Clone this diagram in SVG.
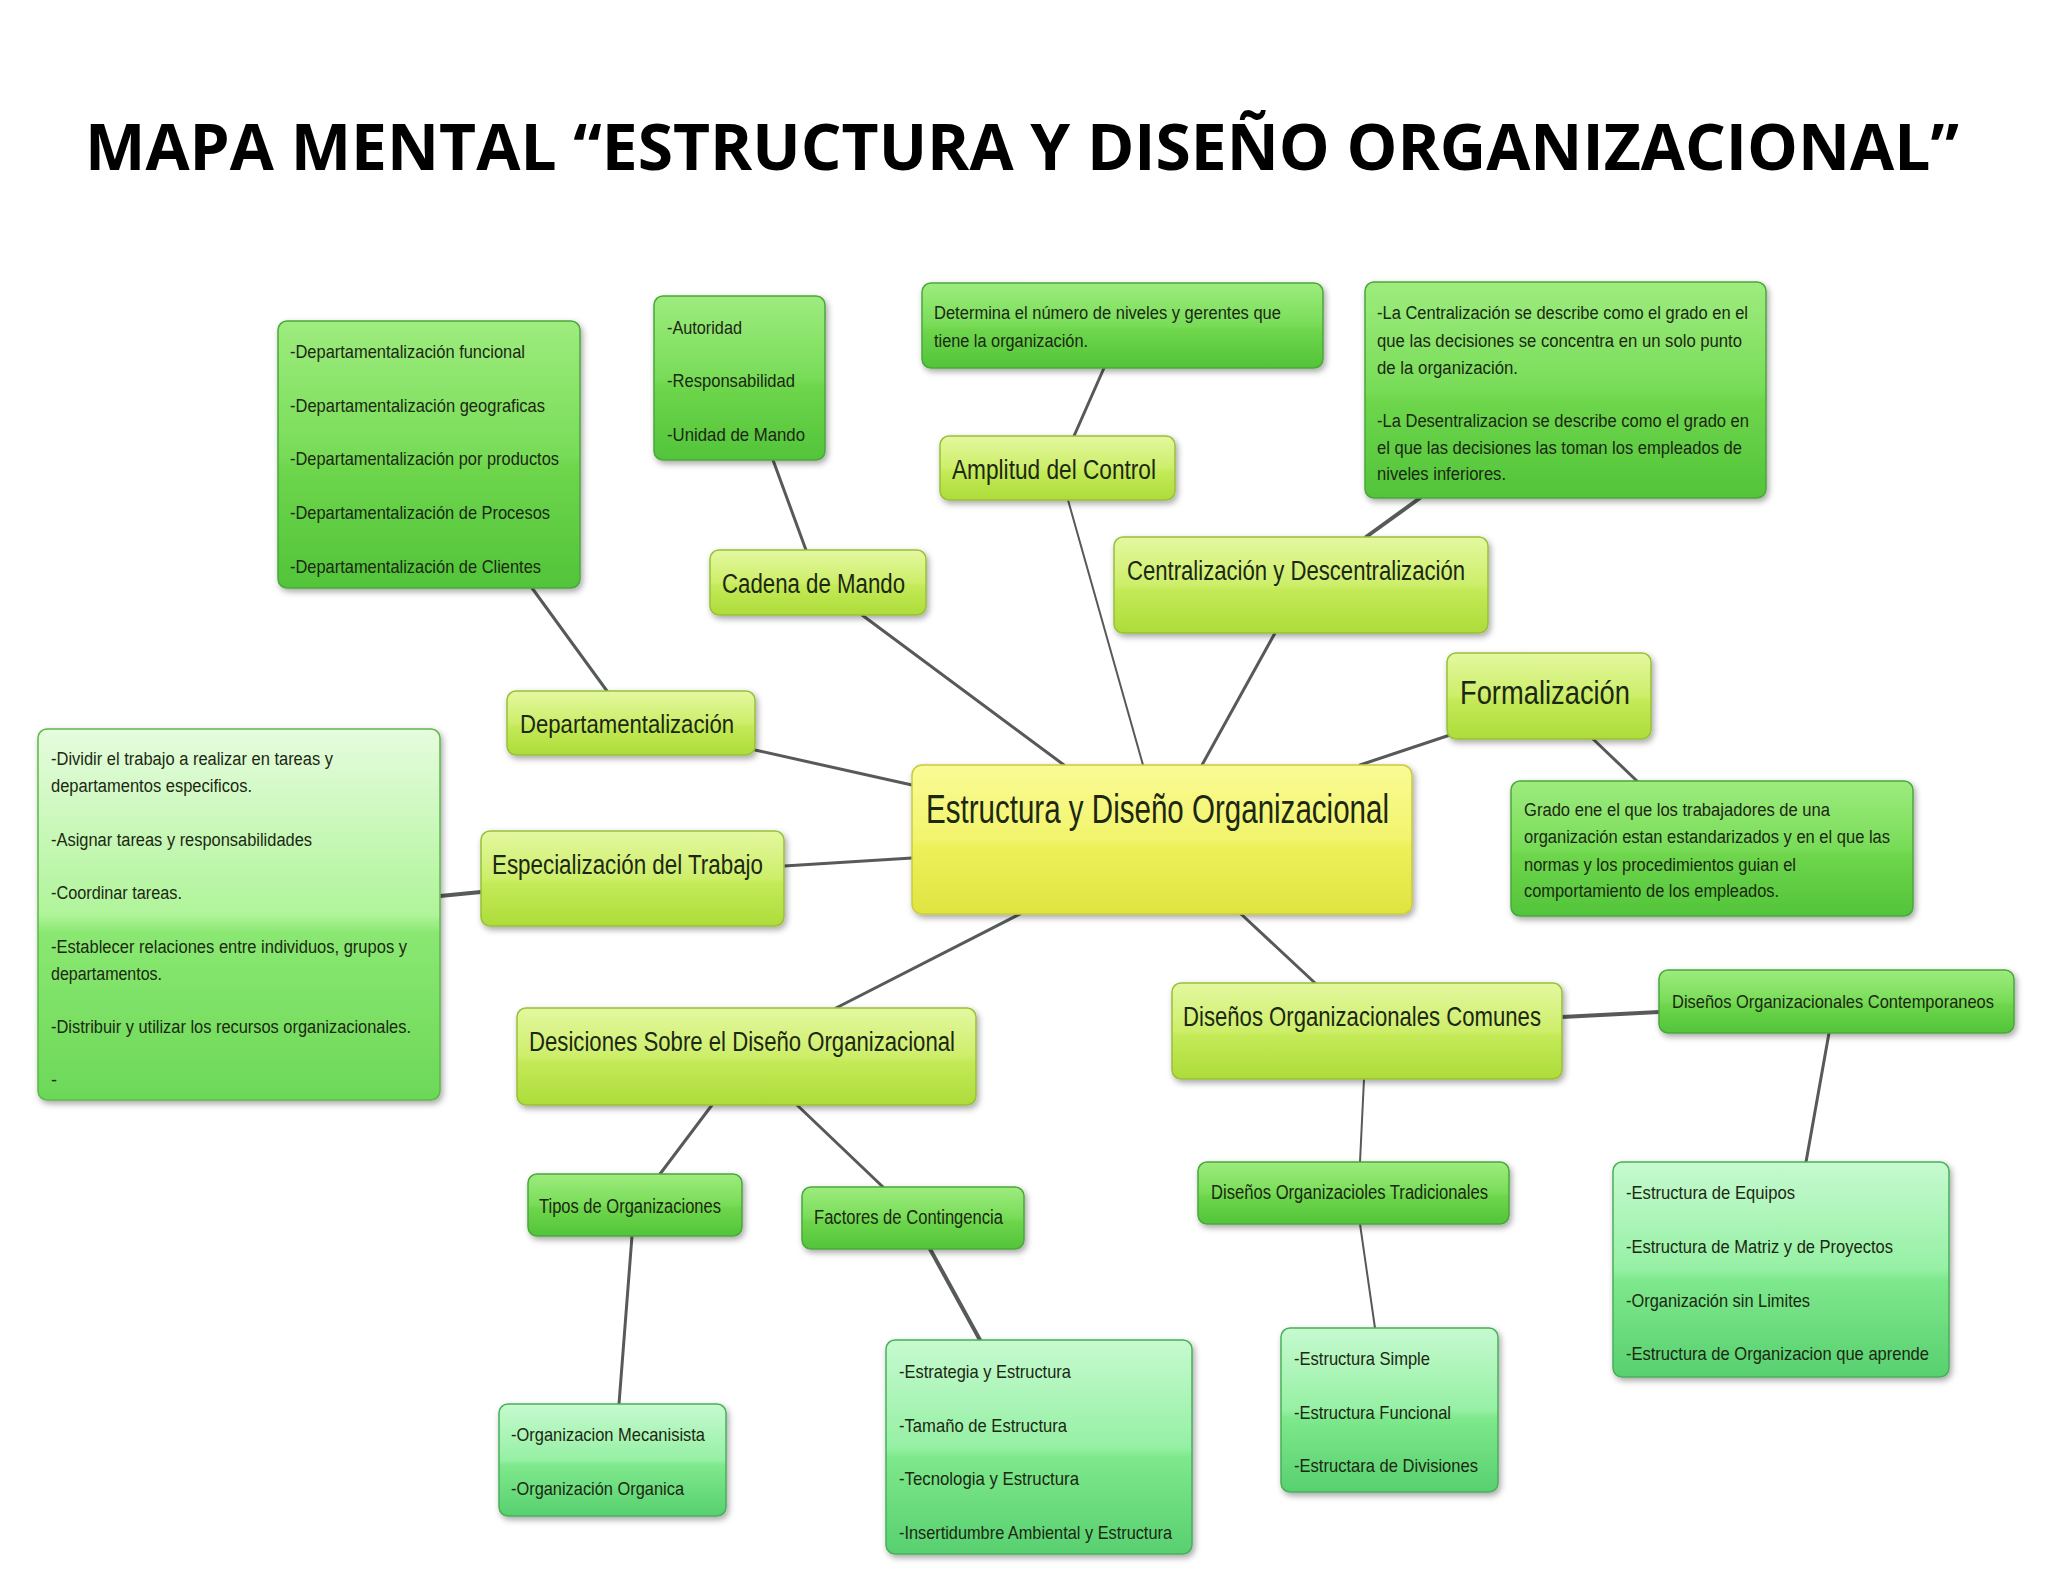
<svg xmlns="http://www.w3.org/2000/svg" width="2048" height="1582" viewBox="0 0 2048 1582">
<defs>
<style>
.t{font-family:"Liberation Sans Narrow","Liberation Sans",Arial,sans-serif;fill:#1c2812;}
.s{font-size:19px}
.d{font-size:18px}
.title{font-family:"Open Sans","Noto Sans","Liberation Sans",sans-serif;font-weight:700;font-size:65px;fill:#000}
.c line{stroke:#565a58;stroke-width:3;stroke-linecap:round}
.box{filter:url(#sh)}
</style>
<filter id="sh" x="-10%" y="-10%" width="125%" height="130%">
<feDropShadow dx="2" dy="3" stdDeviation="3" flood-color="#000" flood-opacity="0.35"/>
</filter>
<linearGradient id="gY" x1="0" y1="0" x2="0" y2="1">
<stop offset="0" stop-color="#fafb96"/><stop offset="0.5" stop-color="#f2f46c"/><stop offset="0.55" stop-color="#eef05a"/><stop offset="1" stop-color="#e0e440"/>
</linearGradient>
<linearGradient id="gYG" x1="0" y1="0" x2="0" y2="1">
<stop offset="0" stop-color="#e4f8a0"/><stop offset="0.5" stop-color="#cdee6a"/><stop offset="0.55" stop-color="#c4ea58"/><stop offset="1" stop-color="#addc3a"/>
</linearGradient>
<linearGradient id="gG" x1="0" y1="0" x2="0" y2="1">
<stop offset="0" stop-color="#9eec7e"/><stop offset="0.5" stop-color="#78dc58"/><stop offset="0.55" stop-color="#6ed64c"/><stop offset="1" stop-color="#52c43a"/>
</linearGradient>
<linearGradient id="gM" x1="0" y1="0" x2="0" y2="1">
<stop offset="0" stop-color="#c6fad0"/><stop offset="0.5" stop-color="#96f0a4"/><stop offset="0.55" stop-color="#7ee88c"/><stop offset="1" stop-color="#58d070"/>
</linearGradient>
<linearGradient id="gL" x1="0" y1="0" x2="0" y2="1">
<stop offset="0" stop-color="#e6fcde"/><stop offset="0.5" stop-color="#b0f49a"/><stop offset="0.55" stop-color="#8ae872"/><stop offset="1" stop-color="#6cd858"/>
</linearGradient>
</defs>
<rect width="2048" height="1582" fill="#fff"/>
<text class="title" x="85" y="170" textLength="1874" lengthAdjust="spacingAndGlyphs">MAPA MENTAL “ESTRUCTURA Y DISEÑO ORGANIZACIONAL”</text>

<g id="connectors" class="c">
<line x1="532" y1="588" x2="607" y2="691"/>
<line x1="755" y1="750" x2="912" y2="785"/>
<line x1="773" y1="460" x2="806" y2="550"/>
<line x1="862" y1="615" x2="1064" y2="765"/>
<line x1="1104" y1="368" x2="1074" y2="436"/>
<line x1="1068" y1="500" x2="1143" y2="765" style="stroke-width:2"/>
<line x1="1420" y1="498" x2="1366" y2="537" style="stroke-width:4"/>
<line x1="1275" y1="633" x2="1202" y2="765"/>
<line x1="1450" y1="735" x2="1360" y2="765"/>
<line x1="1593" y1="739" x2="1637" y2="781"/>
<line x1="784" y1="866" x2="912" y2="858"/>
<line x1="440" y1="896" x2="481" y2="892" style="stroke-width:4"/>
<line x1="1020" y1="914" x2="836" y2="1008"/>
<line x1="1241" y1="914" x2="1315" y2="983"/>
<line x1="712" y1="1105" x2="660" y2="1174"/>
<line x1="797" y1="1105" x2="883" y2="1187"/>
<line x1="632" y1="1236" x2="619" y2="1404"/>
<line x1="930" y1="1249" x2="980" y2="1340" style="stroke-width:4"/>
<line x1="1562" y1="1017" x2="1659" y2="1012" style="stroke-width:4"/>
<line x1="1364" y1="1079" x2="1360" y2="1162" style="stroke-width:2"/>
<line x1="1360" y1="1224" x2="1375" y2="1328" style="stroke-width:2"/>
<line x1="1829" y1="1033" x2="1806" y2="1162"/>
</g>

<g id="dept-list">
<rect class="box" x="278" y="321" width="302" height="267" rx="9" fill="url(#gG)" stroke="#4aa83a" stroke-width="1.5"/>
<text class="t s" x="290" y="358" textLength="235" lengthAdjust="spacingAndGlyphs">-Departamentalización funcional</text>
<text class="t s" x="290" y="412" textLength="255" lengthAdjust="spacingAndGlyphs">-Departamentalización geograficas</text>
<text class="t s" x="290" y="465" textLength="269" lengthAdjust="spacingAndGlyphs">-Departamentalización por productos</text>
<text class="t s" x="290" y="519" textLength="260" lengthAdjust="spacingAndGlyphs">-Departamentalización de Procesos</text>
<text class="t s" x="290" y="573" textLength="251" lengthAdjust="spacingAndGlyphs">-Departamentalización de Clientes</text>
</g>

<g id="cadena-list">
<rect class="box" x="654" y="296" width="171" height="164" rx="9" fill="url(#gG)" stroke="#4aa83a" stroke-width="1.5"/>
<text class="t s" x="667" y="334" textLength="75" lengthAdjust="spacingAndGlyphs">-Autoridad</text>
<text class="t s" x="667" y="387" textLength="128" lengthAdjust="spacingAndGlyphs">-Responsabilidad</text>
<text class="t s" x="667" y="441" textLength="138" lengthAdjust="spacingAndGlyphs">-Unidad de Mando</text>
</g>

<g id="cadena">
<rect class="box" x="710" y="550" width="216" height="65" rx="9" fill="url(#gYG)" stroke="#98c038" stroke-width="1.5"/>
<text class="t" x="722" y="593" font-size="27" textLength="183" lengthAdjust="spacingAndGlyphs">Cadena de Mando</text>
</g>

<g id="amplitud-desc">
<rect class="box" x="922" y="283" width="401" height="85" rx="9" fill="url(#gG)" stroke="#4aa83a" stroke-width="1.5"/>
<text class="t d" x="934" y="319" textLength="347" lengthAdjust="spacingAndGlyphs">Determina el número de niveles y gerentes que</text>
<text class="t d" x="934" y="347" textLength="154" lengthAdjust="spacingAndGlyphs">tiene la organización.</text>
</g>

<g id="amplitud">
<rect class="box" x="940" y="436" width="235" height="64" rx="9" fill="url(#gYG)" stroke="#98c038" stroke-width="1.5"/>
<text class="t" x="952" y="479" font-size="27" textLength="204" lengthAdjust="spacingAndGlyphs">Amplitud del Control</text>
</g>

<g id="centralizacion-desc">
<rect class="box" x="1365" y="282" width="401" height="216" rx="9" fill="url(#gG)" stroke="#4aa83a" stroke-width="1.5"/>
<text class="t d" x="1377" y="319" textLength="371" lengthAdjust="spacingAndGlyphs">-La Centralización se describe como el grado en el</text>
<text class="t d" x="1377" y="347" textLength="365" lengthAdjust="spacingAndGlyphs">que las decisiones se concentra en un solo punto</text>
<text class="t d" x="1377" y="374" textLength="141" lengthAdjust="spacingAndGlyphs">de la organización.</text>
<text class="t d" x="1377" y="427" textLength="372" lengthAdjust="spacingAndGlyphs">-La Desentralizacion se describe como el grado en</text>
<text class="t d" x="1377" y="454" textLength="365" lengthAdjust="spacingAndGlyphs">el que las decisiones las toman los empleados de</text>
<text class="t d" x="1377" y="480" textLength="129" lengthAdjust="spacingAndGlyphs">niveles inferiores.</text>
</g>

<g id="centralizacion">
<rect class="box" x="1114" y="537" width="374" height="96" rx="9" fill="url(#gYG)" stroke="#98c038" stroke-width="1.5"/>
<text class="t" x="1127" y="580" font-size="27" textLength="338" lengthAdjust="spacingAndGlyphs">Centralización y Descentralización</text>
</g>

<g id="formalizacion">
<rect class="box" x="1447" y="653" width="204" height="86" rx="9" fill="url(#gYG)" stroke="#98c038" stroke-width="1.5"/>
<text class="t" x="1460" y="704" font-size="33" textLength="170" lengthAdjust="spacingAndGlyphs">Formalización</text>
</g>

<g id="formalizacion-desc">
<rect class="box" x="1511" y="781" width="402" height="135" rx="9" fill="url(#gG)" stroke="#4aa83a" stroke-width="1.5"/>
<text class="t d" x="1524" y="816" textLength="306" lengthAdjust="spacingAndGlyphs">Grado ene el que los trabajadores de una</text>
<text class="t d" x="1524" y="843" textLength="366" lengthAdjust="spacingAndGlyphs">organización estan estandarizados y en el que las</text>
<text class="t d" x="1524" y="871" textLength="272" lengthAdjust="spacingAndGlyphs">normas y los procedimientos guian el</text>
<text class="t d" x="1524" y="897" textLength="255" lengthAdjust="spacingAndGlyphs">comportamiento de los empleados.</text>
</g>

<g id="central">
<rect class="box" x="912" y="765" width="500" height="149" rx="10" fill="url(#gY)" stroke="#c8cc3c" stroke-width="1.5"/>
<text class="t" x="926" y="823" font-size="40" textLength="463" lengthAdjust="spacingAndGlyphs">Estructura y Diseño Organizacional</text>
</g>

<g id="departamentalizacion">
<rect class="box" x="507" y="691" width="248" height="64" rx="9" fill="url(#gYG)" stroke="#98c038" stroke-width="1.5"/>
<text class="t" x="520" y="733" font-size="26" textLength="214" lengthAdjust="spacingAndGlyphs">Departamentalización</text>
</g>

<g id="especializacion">
<rect class="box" x="481" y="831" width="303" height="95" rx="9" fill="url(#gYG)" stroke="#98c038" stroke-width="1.5"/>
<text class="t" x="492" y="874" font-size="27" textLength="271" lengthAdjust="spacingAndGlyphs">Especialización del Trabajo</text>
</g>

<g id="especializacion-list">
<rect class="box" x="38" y="729" width="402" height="371" rx="9" fill="url(#gL)" stroke="#5cb848" stroke-width="1.5"/>
<text class="t d" x="51" y="765" textLength="282" lengthAdjust="spacingAndGlyphs">-Dividir el trabajo a realizar en tareas y</text>
<text class="t d" x="51" y="792" textLength="201" lengthAdjust="spacingAndGlyphs">departamentos especificos.</text>
<text class="t d" x="51" y="846" textLength="261" lengthAdjust="spacingAndGlyphs">-Asignar tareas y responsabilidades</text>
<text class="t d" x="51" y="899" textLength="131" lengthAdjust="spacingAndGlyphs">-Coordinar tareas.</text>
<text class="t d" x="51" y="953" textLength="356" lengthAdjust="spacingAndGlyphs">-Establecer relaciones entre individuos, grupos y</text>
<text class="t d" x="51" y="980" textLength="111" lengthAdjust="spacingAndGlyphs">departamentos.</text>
<text class="t d" x="51" y="1033" textLength="360" lengthAdjust="spacingAndGlyphs">-Distribuir y utilizar los recursos organizacionales.</text>
<text class="t d" x="51" y="1086">-</text>
</g>

<g id="desiciones">
<rect class="box" x="517" y="1008" width="459" height="97" rx="9" fill="url(#gYG)" stroke="#98c038" stroke-width="1.5"/>
<text class="t" x="529" y="1051" font-size="27" textLength="426" lengthAdjust="spacingAndGlyphs">Desiciones Sobre el Diseño Organizacional</text>
</g>

<g id="comunes">
<rect class="box" x="1172" y="983" width="390" height="96" rx="9" fill="url(#gYG)" stroke="#98c038" stroke-width="1.5"/>
<text class="t" x="1183" y="1026" font-size="28" textLength="358" lengthAdjust="spacingAndGlyphs">Diseños Organizacionales Comunes</text>
</g>

<g id="contemporaneos">
<rect class="box" x="1659" y="970" width="355" height="63" rx="9" fill="url(#gG)" stroke="#4aa83a" stroke-width="1.5"/>
<text class="t" x="1672" y="1008" font-size="19" textLength="322" lengthAdjust="spacingAndGlyphs">Diseños Organizacionales Contemporaneos</text>
</g>

<g id="contemporaneos-list">
<rect class="box" x="1613" y="1162" width="336" height="215" rx="9" fill="url(#gM)" stroke="#48b058" stroke-width="1.5"/>
<text class="t s" x="1626" y="1199" textLength="169" lengthAdjust="spacingAndGlyphs">-Estructura de Equipos</text>
<text class="t s" x="1626" y="1253" textLength="267" lengthAdjust="spacingAndGlyphs">-Estructura de Matriz y de Proyectos</text>
<text class="t s" x="1626" y="1307" textLength="184" lengthAdjust="spacingAndGlyphs">-Organización sin Limites</text>
<text class="t s" x="1626" y="1360" textLength="303" lengthAdjust="spacingAndGlyphs">-Estructura de Organizacion que aprende</text>
</g>

<g id="tradicionales">
<rect class="box" x="1198" y="1162" width="311" height="62" rx="9" fill="url(#gG)" stroke="#4aa83a" stroke-width="1.5"/>
<text class="t" x="1211" y="1199" font-size="20" textLength="277" lengthAdjust="spacingAndGlyphs">Diseños Organizacioles Tradicionales</text>
</g>

<g id="tradicionales-list">
<rect class="box" x="1281" y="1328" width="217" height="164" rx="9" fill="url(#gM)" stroke="#48b058" stroke-width="1.5"/>
<text class="t s" x="1294" y="1365" textLength="136" lengthAdjust="spacingAndGlyphs">-Estructura Simple</text>
<text class="t s" x="1294" y="1419" textLength="157" lengthAdjust="spacingAndGlyphs">-Estructura Funcional</text>
<text class="t s" x="1294" y="1472" textLength="184" lengthAdjust="spacingAndGlyphs">-Estructara de Divisiones</text>
</g>

<g id="tipos">
<rect class="box" x="528" y="1174" width="214" height="62" rx="9" fill="url(#gG)" stroke="#4aa83a" stroke-width="1.5"/>
<text class="t" x="539" y="1213" font-size="20" textLength="182" lengthAdjust="spacingAndGlyphs">Tipos de Organizaciones</text>
</g>

<g id="tipos-list">
<rect class="box" x="499" y="1404" width="227" height="112" rx="9" fill="url(#gM)" stroke="#48b058" stroke-width="1.5"/>
<text class="t s" x="511" y="1441" textLength="194" lengthAdjust="spacingAndGlyphs">-Organizacion Mecanisista</text>
<text class="t s" x="511" y="1495" textLength="173" lengthAdjust="spacingAndGlyphs">-Organización Organica</text>
</g>

<g id="factores">
<rect class="box" x="802" y="1187" width="222" height="62" rx="9" fill="url(#gG)" stroke="#4aa83a" stroke-width="1.5"/>
<text class="t" x="814" y="1224" font-size="20" textLength="189" lengthAdjust="spacingAndGlyphs">Factores de Contingencia</text>
</g>

<g id="factores-list">
<rect class="box" x="886" y="1340" width="306" height="214" rx="9" fill="url(#gM)" stroke="#48b058" stroke-width="1.5"/>
<text class="t s" x="899" y="1378" textLength="172" lengthAdjust="spacingAndGlyphs">-Estrategia y Estructura</text>
<text class="t s" x="899" y="1432" textLength="168" lengthAdjust="spacingAndGlyphs">-Tamaño de Estructura</text>
<text class="t s" x="899" y="1485" textLength="180" lengthAdjust="spacingAndGlyphs">-Tecnologia y Estructura</text>
<text class="t s" x="899" y="1539" textLength="273" lengthAdjust="spacingAndGlyphs">-Insertidumbre Ambiental y Estructura</text>
</g>
</svg>
